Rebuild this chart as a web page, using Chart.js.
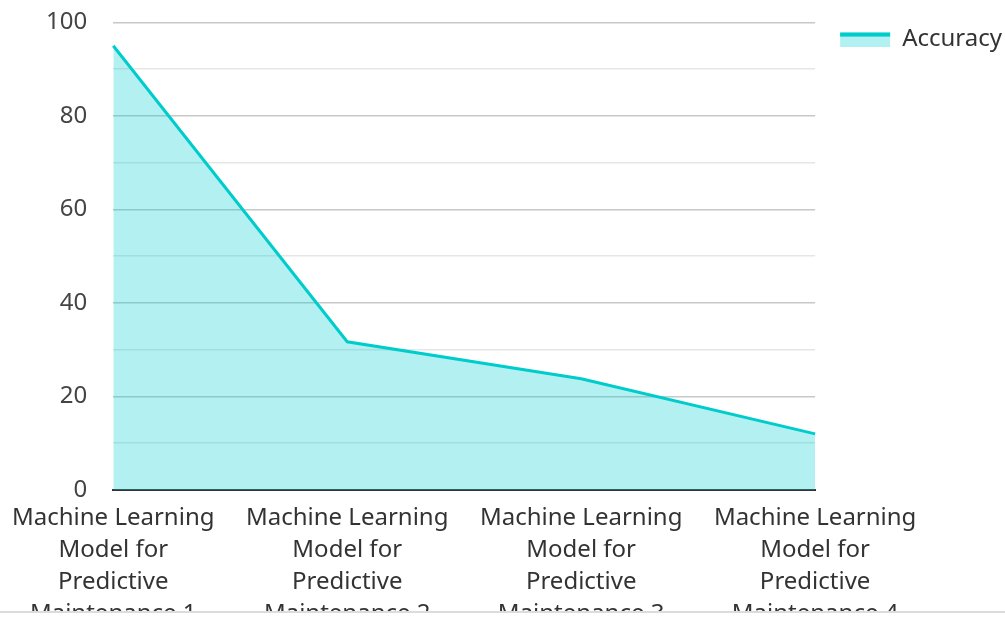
<!DOCTYPE html>
<html>
<head>
<meta charset="utf-8">
<script src="https://cdn.jsdelivr.net/npm/chart.js@4"></script>
<style>
  html, body { margin: 0; padding: 0; background: #fff; }
  #wrap { width: 1005px; height: 611px; position: relative; border-bottom: 2px solid #dcdcdc; overflow: hidden; }
</style>
</head>
<body>
<div id="wrap"><canvas id="chart"></canvas></div>
<script>
// chart data
const categories = [
  ['Machine Learning', 'Model for', 'Predictive', 'Maintenance 1'],
  ['Machine Learning', 'Model for', 'Predictive', 'Maintenance 2'],
  ['Machine Learning', 'Model for', 'Predictive', 'Maintenance 3'],
  ['Machine Learning', 'Model for', 'Predictive', 'Maintenance 4']
];
const accuracy = [95, 31.7, 23.8, 12];
const yTicks = [0, 20, 40, 60, 80, 100];

const LINE = '#00cccc';
const FILL = 'rgba(0,206,209,0.3)';

// legend swatch: light fill with a teal bar on top
const legendBar = {
  id: 'legendBar',
  afterDraw(chart) {
    const lg = chart.legend;
    if (!lg || !lg.legendHitBoxes) return;
    const ctx = chart.ctx;
    lg.legendHitBoxes.forEach(b => {
      ctx.save();
      ctx.fillStyle = LINE;
      ctx.fillRect(b.left, b.top + 5, 50, 4);
      ctx.restore();
    });
  }
};

new Chart(document.getElementById('chart'), {
  type: 'line',
  data: {
    labels: categories,
    datasets: [{
      label: 'Accuracy',
      data: accuracy,
      borderColor: LINE,
      backgroundColor: FILL,
      borderWidth: 3,
      fill: 'origin',
      pointRadius: 0,
      tension: 0
    }]
  },
  plugins: [legendBar],
  options: {
    responsive: true,
    maintainAspectRatio: false,
    animation: false,
    layout: { padding: { top: -7, left: 0, right: -7, bottom: 0 } },
    font: { family: 'Noto Sans' },
    plugins: {
      tooltip: { enabled: false },
      legend: {
        position: 'right',
        align: 'start',
        title: { display: true, text: ' ', font: { size: 8 }, padding: 0 },
        labels: {
          color: '#333',
          font: { family: 'Noto Sans', size: 24 },
          boxWidth: 50,
          boxHeight: 15,
          padding: 25,
          generateLabels(chart) {
            return chart.data.datasets.map((ds, i) => ({
              text: ds.label,
              fillStyle: ds.backgroundColor,
              strokeStyle: 'rgba(0,0,0,0)',
              lineWidth: 0,
              fontColor: '#333',
              datasetIndex: i
            }));
          }
        }
      }
    },
    scales: {
      x: {
        offset: false,
        afterFit(scale) { scale.height = 121; },
        grid: { display: false, drawTicks: false },
        border: { color: '#333', width: 2 },
        ticks: {
          color: '#333',
          maxRotation: 0,
          autoSkip: false,
          padding: 12,
          font: { family: 'Noto Sans', size: 24, lineHeight: 1.333 }
        }
      },
      y: {
        min: 0,
        max: 100,
        border: { display: false },
        grid: {
          drawTicks: true,
          tickLength: 18,
          tickColor: 'rgba(0,0,0,0)',
          color: c => (yTicks.includes(c.tick.value) ? '#c8c8c8' : '#e6e6e6'),
          lineWidth: 1.5
        },
        ticks: {
          stepSize: 10,
          padding: 8,
          color: '#444',
          font: { family: 'Noto Sans', size: 24 },
          callback: v => (yTicks.includes(v) ? v : '')
        }
      }
    }
  }
});
</script>
</body>
</html>
